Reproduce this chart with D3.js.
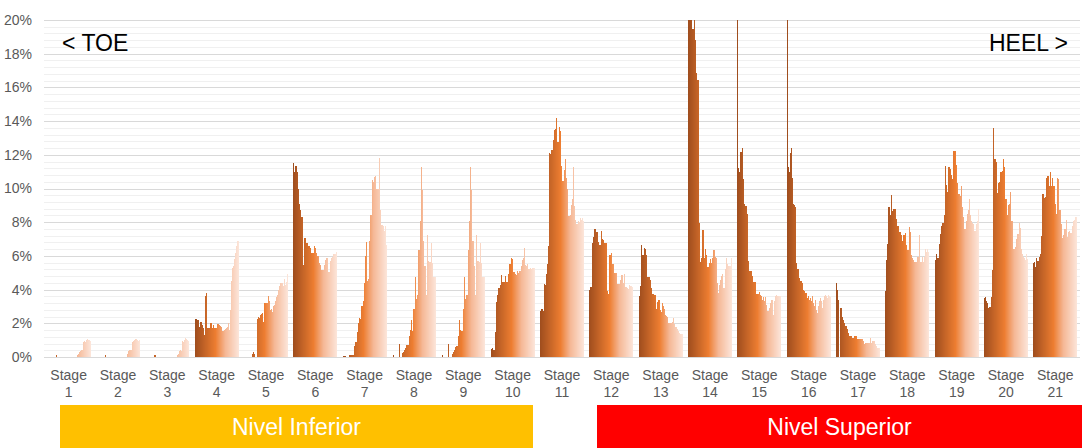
<!DOCTYPE html>
<html>
<head>
<meta charset="utf-8">
<title>TOE / HEEL stages</title>
<script src="https://cdnjs.cloudflare.com/ajax/libs/d3/7.8.5/d3.min.js"></script>
<style>
  body { margin: 0; background: #fff; }
  svg { display: block; font-family: "Liberation Sans", Arial, sans-serif; }
</style>
</head>
<body>
<script>
// one array per stage, 44 bars each (toe -> heel), values in %
const stageNames = d3.range(1, 22).map(d => "Stage " + d)
const yTicks = [0, 2, 4, 6, 8, 10, 12, 14, 16, 18, 20]

const stage1 = [0,0,0,0,0,0,0,0,0,0.1, 0,0,0,0,0,0,0,0,0,0, 0,0,0,0,0,0,0,0,0,0, 0.1,0.15,0.3,0.35,0.4,0.4,0.9,0.95,0.9,1.0, 1.05,1.0,1.0,0.95]
const stage2 = [0,0,0,0,0,0,0,0,0,0.1, 0,0,0,0,0,0,0,0,0,0, 0,0,0,0,0,0,0,0,0,0, 0, 0.2,0.35,0.4,0.4,0.4,0.9,0.95,1.0,1.05, 1.05,1.0,0.95,1.0]
const stage3 = [0,0,0,0,0,0,0,0,0,0.1, 0.1,0,0,0,0,0,0,0,0,0, 0,0,0,0,0,0,0,0,0,0, 0, 0,0.1,0.2,0.35,0.4,0.35,0.95,0.9,1.0, 1.1,1.05,1.0,0.95]
const stage4 = [2.25,2.25,2.2,2.2,1.8,2.1,2.05,1.9,1.75,1.3, 3.6,3.8,1.75,1.75,1.75,2.0,2.0,1.7,1.9,1.7, 1.7,1.7,1.95,1.95,1.9,1.85,1.8,1.55,1.55,1.6, 1.65,1.7,1.8,2.0,1.6,2.8,4.5,5.3,5.4,5.8, 6.2,6.6,6.9,6.9]
const stage5 = [0,0,0,0,0,0,0,0,0.2,0.3, 0.2,0,0,2.25,2.4,2.3,2.5,2.55,2.6,2.1, 3.2,3.2,3.2,3.2,3.6,3.3,2.8,2.85,2.7,3.0, 3.1,3.3,3.55,3.7,4.0,4.2,4.4,4.4,4.4,4.2, 4.6,4.3,4.45,4.9]
const stage6 = [11.5,11.0,11.35,11.35,10.95,9.95,9.1,8.7,8.3,8.3, 5.45,7.05,7.05,6.75,6.75,6.6,6.6,6.45,6.2,6.2, 6.2,6.6,6.45,6.15,6.0,6.0,5.55,5.45,5.15,5.15, 5.15,5.45,5.75,5.9,5.9,5.05,5.05,5.7,5.9,5.95, 6.1,6.1,6.1,6.25]
const stage7 = [0.05,0.05,0.05,0,0,0,0.1,0.1,0.1,0.1, 0.1,0.65,0.9,0.9,1.5,2.0,2.3,2.25,3.0,3.0, 3.35,4.4,6.0,6.8,4.5,4.65,6.9,8.45,8.45,10.5, 10.4,10.7,10.75,9.95,9.95,9.95,11.8,8.7,7.85,7.85, 7.75,7.45,7.75,6.65]
const stage8 = [0,0.1,0,0,0,0,0,0.8,0,0, 0.25,0.3,0.4,0.55,0.7,0.7,0.7,1.25,1.6,2.2, 1.55,2.85,2.85,4.75,3.45,3.7,6.35,6.35,8.1,11.3, 9.9,6.9,5.4,5.4,3.7,7.25,5.7,5.65,5.65,6.75, 5.6,4.75,4.75,4.75]
const stage9 = [0,0.1,0,0,0,0,0,0.8,0,0, 0,0.2,0.3,0.4,0.6,0.65,0.65,1.25,2.2,1.6, 1.55,1.55,2.85,4.75,3.45,3.7,3.7,6.35,8.1,11.3, 9.9,6.9,6.9,5.4,3.7,7.25,5.7,5.7,5.65,6.75, 5.6,4.75,4.75,4.75]
const stage10 = [0.45,0.55,0.4,0.4,1.5,3.25,3.7,4.1,4.1,4.3, 4.85,4.45,4.45,4.45,4.8,4.45,4.45,4.95,5.5,5.5, 5.9,5.8,5.05,5.05,4.95,4.85,5.1,5.0,5.1,5.1, 5.4,5.75,5.9,6.45,5.45,5.4,5.5,5.25,5.2,5.3, 5.25,5.3,5.3,5.3]
const stage11 = [2.75,2.85,2.85,2.75,4.35,4.25,4.95,5.5,6.6,12.1, 12.05,12.3,12.3,12.9,13.45,13.55,14.2,12.75,12.75,13.65, 13.4,11.35,10.45,10.45,11.1,11.75,10.6,9.95,8.35,8.35, 8.45,9.0,9.35,11.25,8.95,8.15,7.9,7.9,8.1,8.0, 8.25,8.15,8.25,8.1]
const stage12 = [4.0,4.15,4.15,6.75,7.1,7.6,7.6,7.4,7.4,6.85, 6.65,6.65,7.5,7.0,6.95,6.75,6.75,6.75,3.9,3.75, 6.05,6.05,6.15,5.5,5.5,5.0,5.0,5.0,4.35,4.35, 4.35,4.55,4.85,4.85,4.4,4.95,4.15,4.15,4.1,4.05, 4.25,4.2,4.2,4.15]
const stage13 = [3.6,4.2,6.65,6.05,6.05,6.45,6.4,6.05,4.75,4.75, 4.75,4.55,4.1,3.75,3.75,3.7,3.7,2.85,3.25,3.4, 3.4,2.8,2.7,3.2,3.05,2.85,2.5,2.45,2.4,2.0, 2.0,2.0,2.0,2.05,2.3,1.95,1.8,1.8,1.65,1.55, 1.4,1.35,1.35,1.35]
const stage14 = [21,21,21,21,19.45,19.45,21,18.8,16.85,16.45, 16.45,7.95,5.65,5.85,7.55,7.55,5.85,6.4,6.05,5.35, 5.35,5.55,5.8,5.6,5.9,6.35,6.35,5.95,5.85,4.4, 3.8,4.25,4.55,4.8,4.95,4.1,4.1,5.2,5.85,5.5, 5.4,5.4,5.4,5.85]
const stage15 = [21,11.2,10.95,12.15,12.15,12.4,10.55,9.1,8.95,8.95, 8.5,5.7,5.1,5.1,5.1,4.8,4.45,4.45,4.45,3.75, 3.75,3.75,3.85,3.7,3.6,3.4,3.55,3.3,3.55,3.1, 2.75,2.75,2.9,3.2,3.4,3.4,2.5,3.35,3.6,3.65, 3.6,3.6,3.6,3.6]
const stage16 = [21,11.3,11.0,12.1,12.4,10.6,9.1,9.0,8.9,5.6, 5.2,5.2,4.7,4.5,4.5,4.4,4.0,3.9,3.8,3.8, 3.5,3.6,3.4,3.5,3.3,3.6,3.2,3.0,3.4,2.8, 2.6,3.0,3.3,3.5,3.3,2.9,3.4,3.6,3.7,3.6, 3.5,3.7,3.6,3.55]
const stage17 = [4.4,4.0,3.4,0,2.9,2.9,2.35,2.2,2.0,1.85, 1.85,1.65,1.4,1.25,1.25,1.25,1.15,1.1,1.25,1.25, 1.25,1.05,1.05,1.05,1.05,1.05,1.05,0.95,0.8,0.85, 0.85,0.85,0.85,0.85,1.15,0.85,0.95,0.95,0.95,0.8, 0.65,0.55,0.55,0.55]
const stage18 = [3.9,5.75,6.7,8.9,8.9,8.45,9.6,8.65,8.8,8.8, 8.8,8.2,7.75,7.75,7.4,7.4,7.25,6.9,7.25,7.25, 7.35,6.65,6.35,6.35,7.7,7.4,6.05,5.9,5.75,5.65, 5.65,5.65,5.95,5.95,7.25,5.65,5.65,5.95,5.65,5.95, 6.4,6.25,6.4,6.25]
const stage19 = [5.75,6.1,5.85,5.85,6.7,7.3,7.75,7.95,7.95,8.45, 11.35,10.2,9.8,11.25,11.25,11.15,10.8,10.55,12.25,12.25, 12.25,11.4,10.35,9.65,9.65,9.55,10.15,8.9,8.3,7.6, 7.6,8.1,8.5,8.7,9.35,8.45,8.1,7.95,7.9,7.5, 7.5,7.9,8.1,8.8]
const stage20 = [3.5,3.55,3.3,3.2,2.9,2.95,2.95,3.55,5.15,13.6, 11.75,11.75,11.6,9.75,10.35,10.4,10.95,10.95,11.05,11.75, 11.3,9.4,9.4,8.45,9.0,9.1,9.8,8.1,8.1,6.4, 6.4,6.55,7.0,7.3,7.3,7.95,7.65,6.4,6.1,5.95, 5.9,5.75,6.1,5.8]
const stage21 = [5.6,5.65,5.35,5.9,5.7,5.7,5.95,6.1,7.2,9.7, 9.7,9.45,9.5,10.6,10.75,10.75,10.15,10.95,10.15,10.6, 10.15,10.15,9.1,8.5,10.6,10.55,8.7,8.7,7.9,7.05, 7.25,7.6,7.6,8.15,7.15,7.4,7.45,7.35,7.35,7.75, 8.05,8.15,8.3,8.3]

const stageData = [stage1, stage2, stage3, stage4, stage5, stage6, stage7, stage8, stage9, stage10,
    stage11, stage12, stage13, stage14, stage15, stage16, stage17, stage18, stage19, stage20, stage21]

const width = 1085
const height = 448
const plotLeft = 44
const plotRight = 1080
const plotTop = 20
const plotBottom = 357
const nBars = stage1.length

const svg = d3.select("body").append("svg")
    .attr("width", width)
    .attr("height", height)

const x = d3.scaleBand()
    .domain(stageNames)
    .range([plotLeft, plotRight])
    .paddingInner(0.108)
    .paddingOuter(0.054)
const xi = d3.scaleBand()
    .domain(d3.range(nBars))
    .range([0, x.bandwidth()])
const y = d3.scaleLinear()
    .domain([0, 20])
    .range([plotBottom, plotTop])

const color = d3.scaleLinear()
    .domain([0, 20, 30, nBars - 1])
    .range(["#a04e1e", "#ed7d31", "#f5b896", "#fce4d8"])

// gridlines: minor every 0.4 %, major every 2 %
svg.append("g")
    .selectAll("line")
    .data(d3.range(0, 51).map(d => d * 0.4))
    .join("line")
        .attr("x1", plotLeft)
        .attr("x2", plotRight)
        .attr("y1", d => Math.round(y(d)) + 0.5)
        .attr("y2", d => Math.round(y(d)) + 0.5)
        .attr("stroke", "#f0f0f0")
svg.append("g")
    .selectAll("line")
    .data(yTicks)
    .join("line")
        .attr("x1", plotLeft)
        .attr("x2", plotRight)
        .attr("y1", d => Math.round(y(d)) + 0.5)
        .attr("y2", d => Math.round(y(d)) + 0.5)
        .attr("stroke", "#d9d9d9")

svg.append("clipPath")
    .attr("id", "plot")
    .append("rect")
        .attr("x", plotLeft)
        .attr("y", plotTop)
        .attr("width", plotRight - plotLeft)
        .attr("height", plotBottom - plotTop)

const groups = svg.append("g")
    .attr("clip-path", "url(#plot)")
    .selectAll("g")
    .data(stageData)
    .join("g")
        .attr("transform", (d, i) => `translate(${x(stageNames[i])},0)`)

groups.selectAll("rect")
    .data(d => d)
    .join("rect")
        .attr("x", (d, i) => xi(i))
        .attr("width", xi.bandwidth() + 0.05)
        .attr("y", d => y(d))
        .attr("height", d => plotBottom - y(d))
        .attr("fill", (d, i) => color(i))
        .attr("shape-rendering", "crispEdges")

// y axis labels
const yAxis = svg.append("g")
    .attr("transform", `translate(${plotLeft},0)`)
    .call(d3.axisLeft(y).tickValues(yTicks).tickFormat(d => d + "%").tickSize(0).tickPadding(12))
yAxis.select(".domain").remove()
yAxis.selectAll("text")
    .attr("fill", "#595959")
    .style("font-size", "14px")
    .style("font-family", "Liberation Sans, Arial, sans-serif")

// x category labels (two lines)
const xl = svg.append("g")
    .selectAll("text")
    .data(stageNames)
    .join("text")
        .attr("text-anchor", "middle")
        .attr("fill", "#595959")
        .style("font-size", "14px")
xl.append("tspan")
    .attr("x", d => x(d) + x.bandwidth() / 2)
    .attr("y", 380)
    .text("Stage")
xl.append("tspan")
    .attr("x", d => x(d) + x.bandwidth() / 2)
    .attr("y", 396.5)
    .text(d => d.split(" ")[1])

svg.append("text")
    .attr("x", 62)
    .attr("y", 51)
    .style("font-size", "23px")
    .attr("fill", "#000")
    .text("< TOE")
svg.append("text")
    .attr("x", 1068)
    .attr("y", 51)
    .attr("text-anchor", "end")
    .style("font-size", "23px")
    .attr("fill", "#000")
    .text("HEEL >")

// level boxes
const levels = [
    {name: "Nivel Inferior", x0: 60, x1: 533, fill: "#ffc000"},
    {name: "Nivel Superior", x0: 597, x1: 1082, fill: "#ff0000"}
]
const lv = svg.append("g")
    .selectAll("g")
    .data(levels)
    .join("g")
lv.append("rect")
    .attr("x", d => d.x0)
    .attr("y", 405)
    .attr("width", d => d.x1 - d.x0)
    .attr("height", 43)
    .attr("fill", d => d.fill)
lv.append("text")
    .attr("x", d => (d.x0 + d.x1) / 2)
    .attr("y", 435)
    .attr("text-anchor", "middle")
    .attr("fill", "#fff")
    .style("font-size", "23px")
    .text(d => d.name)
</script>
</body>
</html>
